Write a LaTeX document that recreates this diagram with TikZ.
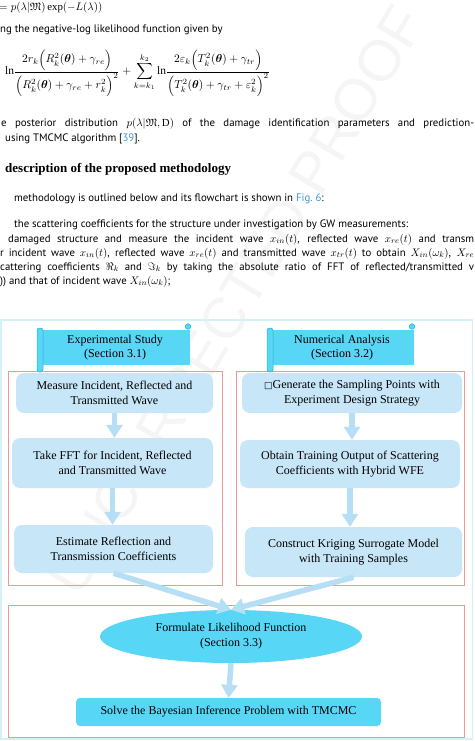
\documentclass[tikz,border=0pt]{standalone}
\usepackage{amsmath,amssymb}
\usepackage{fontspec}
\setmainfont{Liberation Serif}
\newfontfamily\bodyfont{PT Sans}
\newfontfamily\symfont{DejaVu Sans}
\newfontfamily\wmfont{Liberation Sans}
\usetikzlibrary{shapes.geometric,arrows.meta}
\definecolor{hdr}{RGB}{88,214,245}
\definecolor{lbox}{RGB}{199,231,248}
\definecolor{arr}{RGB}{182,222,244}
\definecolor{redf}{RGB}{240,150,150}
\definecolor{outf}{RGB}{212,241,250}
\definecolor{lnk}{RGB}{60,150,205}
\definecolor{curl}{RGB}{50,170,210}
\hbadness=10000
\tikzset{
  bodytxt/.style={anchor=base west, inner sep=0pt, font=\bodyfont\fontsize{10.8}{13}\selectfont},
  lightbox/.style={fill=lbox, rounded corners=8pt, align=center, inner sep=0pt,
    font=\fontsize{12}{15}\selectfont},
  hdrbox/.style={fill=hdr, align=center, inner sep=0pt, font=\fontsize{12}{14}\selectfont},
  redframe/.style={draw=redf, line width=0.8pt, inner sep=0pt},
  flow/.style={draw=arr, line width=5.5pt, -{Triangle[width=16pt,length=13pt]}},
}
\begin{document}
\begin{tikzpicture}[x=1pt,y=-1pt]
\useasboundingbox (0,0) rectangle (474,741);
\clip (0,0) rectangle (474,741);
% watermark
\node[rotate=59, text=black!4, font=\wmfont\fontsize{58}{58}\selectfont, inner sep=0pt] (wm) at (236,300) {UNCORRECTED PROOF};
% page text
\node[bodytxt] (l1) at (-1,11) {$=p(\lambda|\mathfrak{M})\exp(-L(\lambda))$};
\node[bodytxt] (l2) at (0,33) {ng the negative-log likelihood function given by};
\node[anchor=west, inner sep=0pt] (eq) at (5,73) {\resizebox{265pt}{!}{$\displaystyle
 \ln\!\frac{2r_k\Bigl(R_k^2(\boldsymbol{\theta})+\gamma_{re}\Bigr)}{\Bigl(R_k^2(\boldsymbol{\theta})+\gamma_{re}+r_k^2\Bigr)^2}
 +\sum_{k=k_1}^{k_2}\ln\!\frac{2\varepsilon_k\Bigl(T_k^2(\boldsymbol{\theta})+\gamma_{tr}\Bigr)}{\Bigl(T_k^2(\boldsymbol{\theta})+\gamma_{tr}+\varepsilon_k^2\Bigr)^2}$}};
\node[bodytxt] (l3) at (1,126) {\hbox to 473pt{e posterior distribution $p(\lambda|\mathfrak{M},\mathrm{D})$ of the damage identification parameters and prediction-}};
\node[bodytxt] (l4) at (5,141) {using TMCMC algorithm [\textcolor{lnk}{39}].};
\node[anchor=base west, inner sep=0pt, font=\bfseries\fontsize{13}{15}\selectfont] (l5) at (5,172) {description of the proposed methodology};
\node[bodytxt] (l6) at (14,201) {methodology is outlined below and its flowchart is shown in \textcolor{lnk}{Fig.~6}:};
\node[bodytxt] (l7) at (14,227) {the scattering coefficients for the structure under investigation by GW measurements:};
\node[bodytxt] (l8) at (8,242) {\hbox to 466pt{damaged structure and measure the incident wave $x_{in}(t)$, reflected wave $x_{re}(t)$ and transm}};
\node[bodytxt] (l9) at (0,256) {\hbox to 474pt{r incident wave $x_{in}(t)$, reflected wave $x_{re}(t)$ and transmitted wave $x_{tr}(t)$ to obtain $X_{in}(\omega_k)$, $X_{re}$}};
\node[bodytxt] (l10) at (0,270) {\hbox to 474pt{cattering coefficients $\Re_k$ and $\Im_k$ by taking the absolute ratio of FFT of reflected/transmitted v}};
\node[bodytxt] (l11) at (0,284) {)) and that of incident wave $X_{in}(\omega_k)$;};
% outer frame
\draw[outf, line width=1.6pt] (1,320) rectangle (472.5,739);
% red frames
\node[redframe, minimum width=214pt, minimum height=214pt] (fL) at (115,478) {};
\node[redframe, minimum width=228pt, minimum height=214pt] (fR) at (350,478) {};
\node[redframe, minimum width=456pt, minimum height=132pt] (fB) at (236,671) {};
% headers (scroll shapes)
\node[hdrbox, minimum width=150pt, minimum height=35pt] (h1) at (115,347.5) {Experimental Study\\(Section 3.1)};
\node[hdrbox, minimum width=144pt, minimum height=35pt] (h2) at (342,347.5) {Numerical Analysis\\(Section 3.2)};
\foreach \xa/\xb in {37/188, 267/412}{
  \draw[curl, fill=hdr, line width=0.5pt, rounded corners=2.5pt] (\xa,328) rectangle (\xa+6,372);
  \draw[curl, fill=hdr, line width=0.5pt] (\xb,326.5) circle (2.8pt);
}
% boxes
\node[lightbox, minimum width=197pt, minimum height=40pt] (L1) at (114.5,393) {Measure Incident, Reflected and\\Transmitted Wave};
\node[lightbox, minimum width=201pt, minimum height=50pt] (L2) at (112.5,463) {Take FFT for Incident, Reflected\\and Transmitted Wave};
\node[lightbox, minimum width=199pt, minimum height=48pt] (L3) at (113.5,549) {Estimate Reflection and\\Transmission Coefficients};
\node[lightbox, minimum width=220pt, minimum height=40pt] (R1) at (352,393) {{\symfont\fontsize{9}{9}\selectfont □}Generate the Sampling Points with\\Experiment Design Strategy};
\node[lightbox, minimum width=220pt, minimum height=48pt] (R2) at (350,464) {Obtain Training Output of Scattering\\Coefficients with Hybrid WFE};
\node[lightbox, minimum width=217pt, minimum height=50pt] (R3) at (353.5,552) {Construct Kriging Surrogate Model\\with Training Samples};
\node[ellipse, fill=hdr, minimum width=262pt, minimum height=53pt, inner sep=0pt, align=center, font=\fontsize{12}{15}\selectfont] (like) at (231,636.5) {Formulate Likelihood Function\\(Section 3.3)};
\node[fill=hdr, rounded corners=4pt, minimum width=305pt, minimum height=28pt, inner sep=0pt, font=\fontsize{12}{14}\selectfont] (solve) at (228.5,712) {Solve the Bayesian Inference Problem with TMCMC};
% connectors
\draw[flow] (L1.south) -- (L1.south |- L2.north);
\draw[flow] (L2.south) -- (L2.south |- L3.north);
\draw[flow] (R1.south) -- (R1.south |- R2.north);
\draw[flow] (R2.south) -- (R2.south |- R3.north);
\draw[flow] (L3.south) -- (like.north);
\draw[flow] (R3.south) -- (like.north);
\draw[flow] (like.south) -- (solve.north);
\end{tikzpicture}
\end{document}
